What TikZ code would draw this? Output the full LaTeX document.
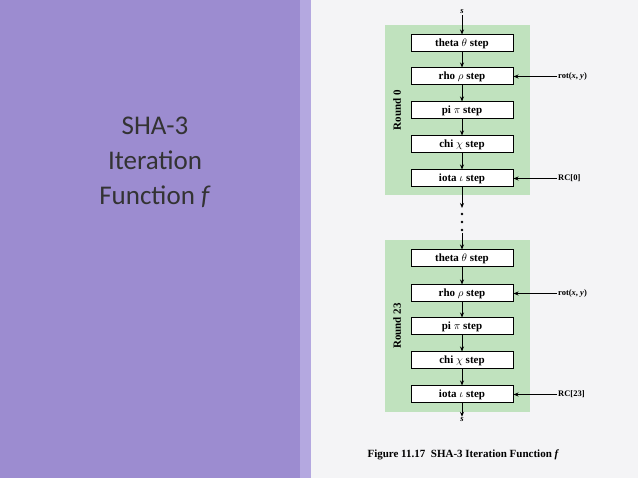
\documentclass[tikz,border=0pt]{standalone}
\usepackage{fontspec}
\setmainfont{Liberation Serif}
\newfontfamily\carl{Carlito}
\usetikzlibrary{arrows.meta}
\definecolor{purp}{RGB}{156,140,208}
\definecolor{purpl}{RGB}{180,168,224}
\definecolor{grn}{RGB}{192,226,190}
\definecolor{bgc}{RGB}{244,244,246}
\begin{document}
\begin{tikzpicture}[x=1pt,y=-1pt,
  stp/.style={draw=black,line width=1pt,fill=white,minimum width=102pt,minimum height=17pt,inner sep=0pt,font=\bfseries\fontsize{11}{13}\selectfont},
  arr/.style={-{Stealth[length=5pt,width=4pt]},line width=0.9pt},
  lab/.style={font=\bfseries\fontsize{8.5}{10}\selectfont,inner sep=1pt},
  rnd/.style={rotate=90,font=\bfseries\fontsize{11}{13}\selectfont}]
\useasboundingbox (0,0) rectangle (638,478);
\fill[bgc] (0,0) rectangle (638,478);
\fill[purp] (0,0) rectangle (300,478);
\fill[purpl] (300,0) rectangle (311,478);
\node[align=center,text=black!80,font=\carl\fontsize{27}{35}\selectfont] (title) at (155,162) {SHA-3\\Iteration\\Function \textit{f}};
\fill[grn] (385,25) rectangle (530,195);
\fill[grn] (385,240) rectangle (530,412);
\node[rnd] (r0) at (397,110) {Round 0};
\node[rnd] (r23) at (397,326) {Round 23};
\node[lab,font=\bfseries\itshape\fontsize{8.5}{10}\selectfont] (s0) at (462,12) {s};
\node[stp] (a1) at (462,43.5) {theta $\theta$ step};
\node[stp] (a2) at (462,76.5) {rho $\rho$ step};
\node[stp] (a3) at (462,110.5) {pi $\pi$ step};
\node[stp] (a4) at (462,144.5) {chi $\chi$ step};
\node[stp] (a5) at (462,178.5) {iota $\iota$ step};
\coordinate (d1) at (462,208);
\coordinate (d2) at (462,233);
\node[stp] (b1) at (462,258.5) {theta $\theta$ step};
\node[stp] (b2) at (462,293.5) {rho $\rho$ step};
\node[stp] (b3) at (462,326.5) {pi $\pi$ step};
\node[stp] (b4) at (462,360.5) {chi $\chi$ step};
\node[stp] (b5) at (462,394.5) {iota $\iota$ step};
\node[lab,font=\bfseries\itshape\fontsize{8.5}{10}\selectfont] (s1) at (462,420) {s};
\draw[arr] (s0) -- (a1);
\draw[arr] (a1) -- (a2);
\draw[arr] (a2) -- (a3);
\draw[arr] (a3) -- (a4);
\draw[arr] (a4) -- (a5);
\draw[arr] (a5) -- (d1);
\foreach \y in {214,222,230} \fill (462,\y) circle (1.3pt);
\draw[arr] (d2) -- (b1);
\draw[arr] (b1) -- (b2);
\draw[arr] (b2) -- (b3);
\draw[arr] (b3) -- (b4);
\draw[arr] (b4) -- (b5);
\draw[arr] (b5) -- (s1);
\node[lab,anchor=west] (p0) at (557,76.5) {rot(\textit{x}, \textit{y})};
\node[lab,anchor=west] (q0) at (557,178.5) {RC[0]};
\node[lab,anchor=west] (p1) at (557,293.5) {rot(\textit{x}, \textit{y})};
\node[lab,anchor=west] (q1) at (557,394.5) {RC[23]};
\draw[arr] (p0) -- (a2);
\draw[arr] (q0) -- (a5);
\draw[arr] (p1) -- (b2);
\draw[arr] (q1) -- (b5);
\node[font=\bfseries\fontsize{11}{13}\selectfont,anchor=west] (cap) at (364,455) {Figure 11.17\enspace SHA-3 Iteration Function \textit{f}};
\end{tikzpicture}
\end{document}
